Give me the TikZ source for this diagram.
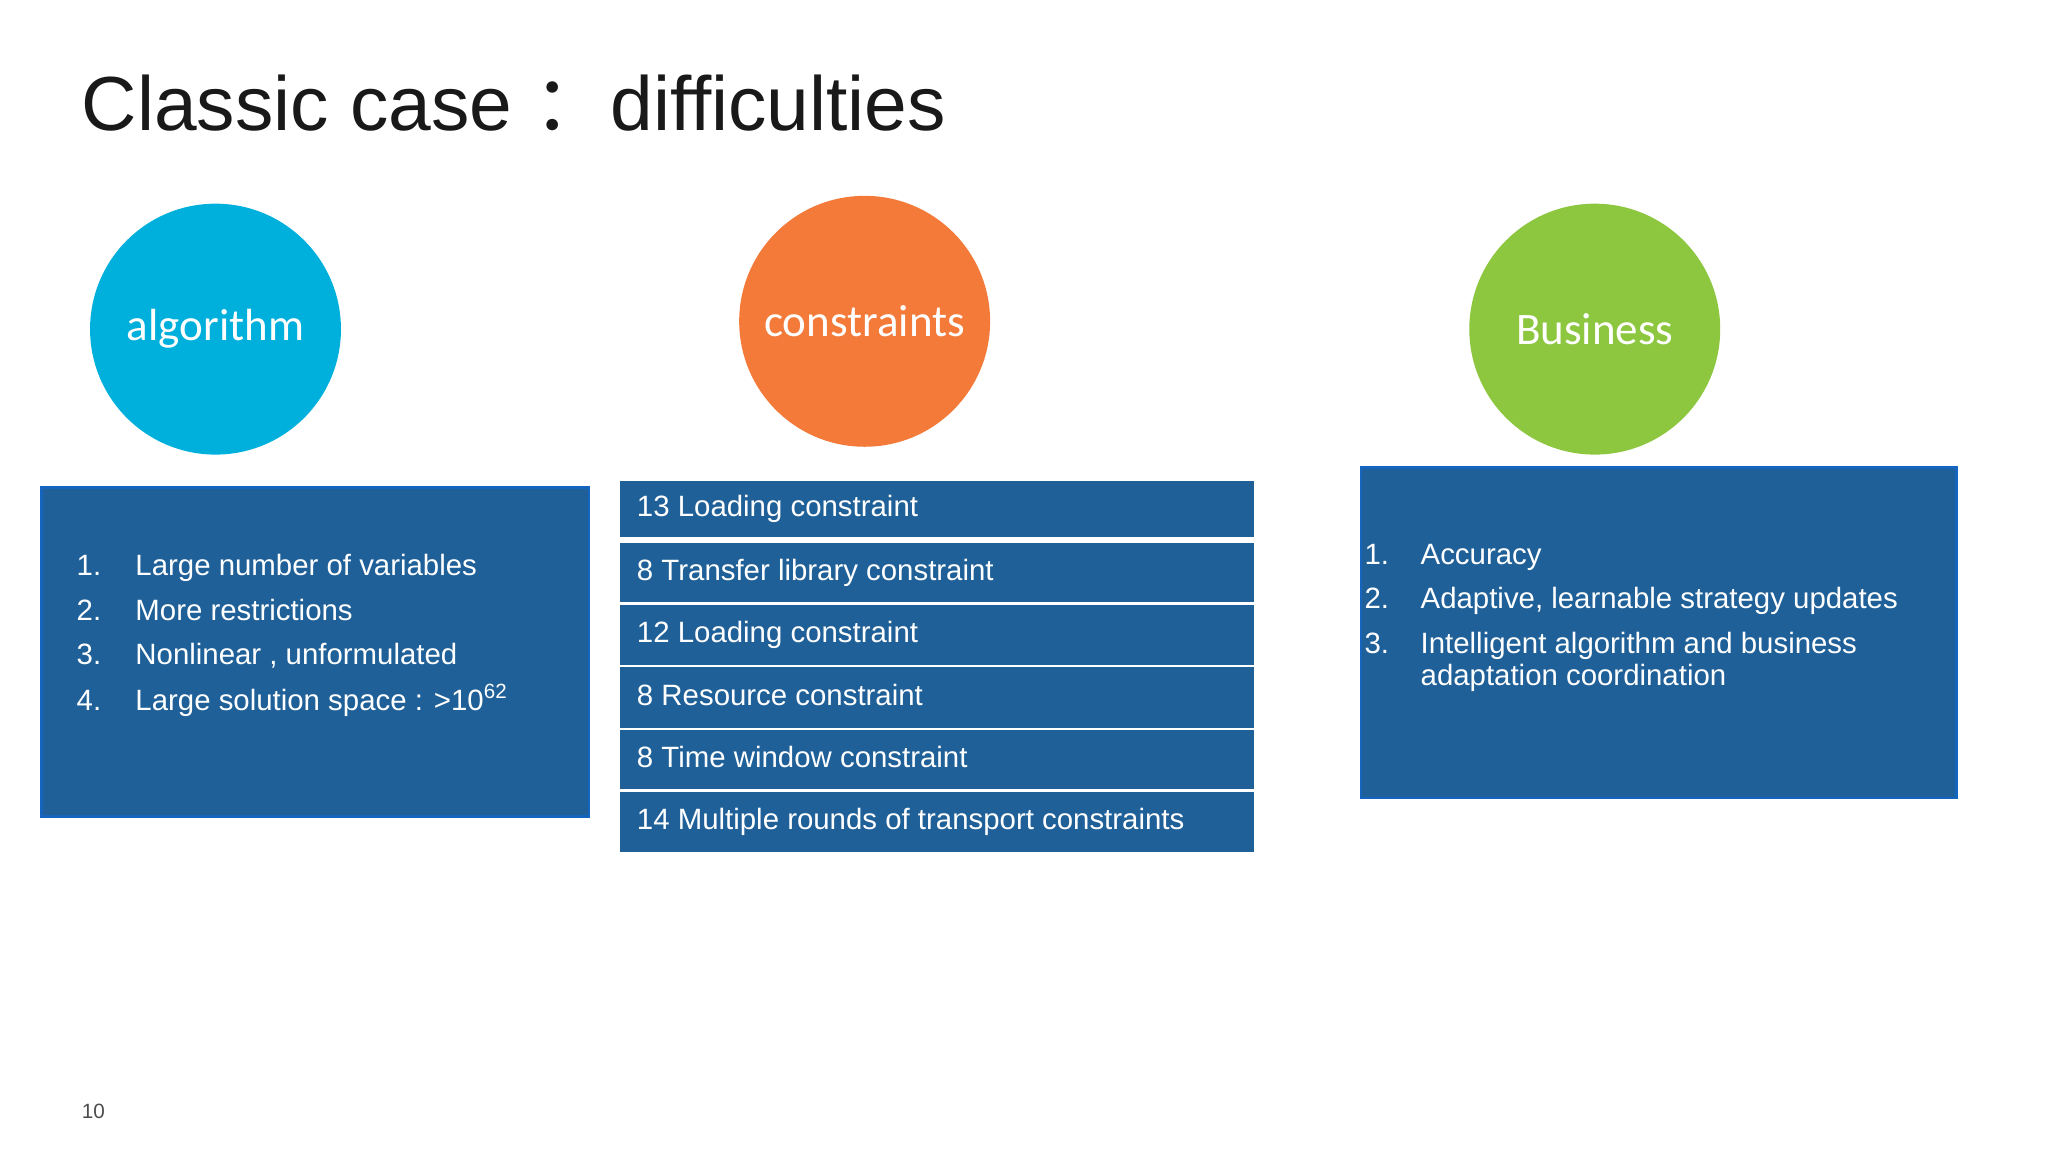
\documentclass[tikz,border=0pt]{standalone}
\usepackage{fontspec}
\setmainfont{Liberation Sans}
\newfontfamily\calib{Carlito}
\newfontfamily\cjk{Noto Sans CJK SC}
\definecolor{boxblue}{HTML}{1F6098}
\definecolor{boxedge}{HTML}{1565C0}
\definecolor{cblue}{HTML}{00B0DC}
\definecolor{corange}{HTML}{F47A3A}
\definecolor{cgreen}{HTML}{8DC63F}
\begin{document}
\begin{tikzpicture}[x=0.01cm,y=-0.01cm,
  circ/.style={circle,minimum size=1.92cm,inner sep=0,text=white,font=\calib\fontsize{9.8}{12}\selectfont},
  bigbox/.style={fill=boxblue,draw=boxedge,line width=0.6pt},
  row/.style={fill=boxblue},
  txt/.style={anchor=base west,text=white,inner sep=0,font=\fontsize{6.4}{7.5}\selectfont}]
\useasboundingbox (0,0) rectangle (1568,882);
\node[anchor=base west,inner sep=0,font=\fontsize{16.7}{20}\selectfont,text=black!90] (title) at (62,100) {Classic case {\cjk ：}difficulties};
\node[circ,fill=cblue] (c1) at (165,252) {algorithm};
\node[circ,fill=corange] (c2) at (662,246) {constraints};
\node[circ,fill=cgreen] (c3) at (1221,252) {Business};
% box 1
\path[bigbox] (32,373) rectangle (451,625);
\foreach \n/\t/\y in {1./Large number of variables/441,2./More restrictions/475,3./{Nonlinear , unformulated}/509,4./{Large solution space : >10\textsuperscript{62}}/544}{
  \node[txt] at (58,\y) {\n};
  \node[txt] at (103,\y) {\t};
}
% rows
\foreach \a/\b/\t in {368/411/13 Loading constraint,416/461/8 Transfer library constraint,463/509/12 Loading constraint,511/557/8 Resource constraint,559/604/8 Time window constraint,606/652/14 Multiple rounds of transport constraints}{
  \path[row] (475,\a) rectangle (960,\b);
  \node[txt] at (487,{(\a+\b)/2+6}) {\t};
}
% box 3
\path[bigbox] (1042,358) rectangle (1498,611);
\foreach \n/\t/\y in {1./Accuracy/432,2./{Adaptive, learnable strategy updates}/466,3./Intelligent algorithm and business/500}{
  \node[txt] at (1044,\y) {\n};
  \node[txt] at (1087,\y) {\t};
}
\node[txt] at (1087,525) {adaptation coordination};
\node[anchor=base west,inner sep=0,font=\fontsize{4.5}{5}\selectfont,text=black!70] (pg) at (62,856) {10};
\end{tikzpicture}
\end{document}
